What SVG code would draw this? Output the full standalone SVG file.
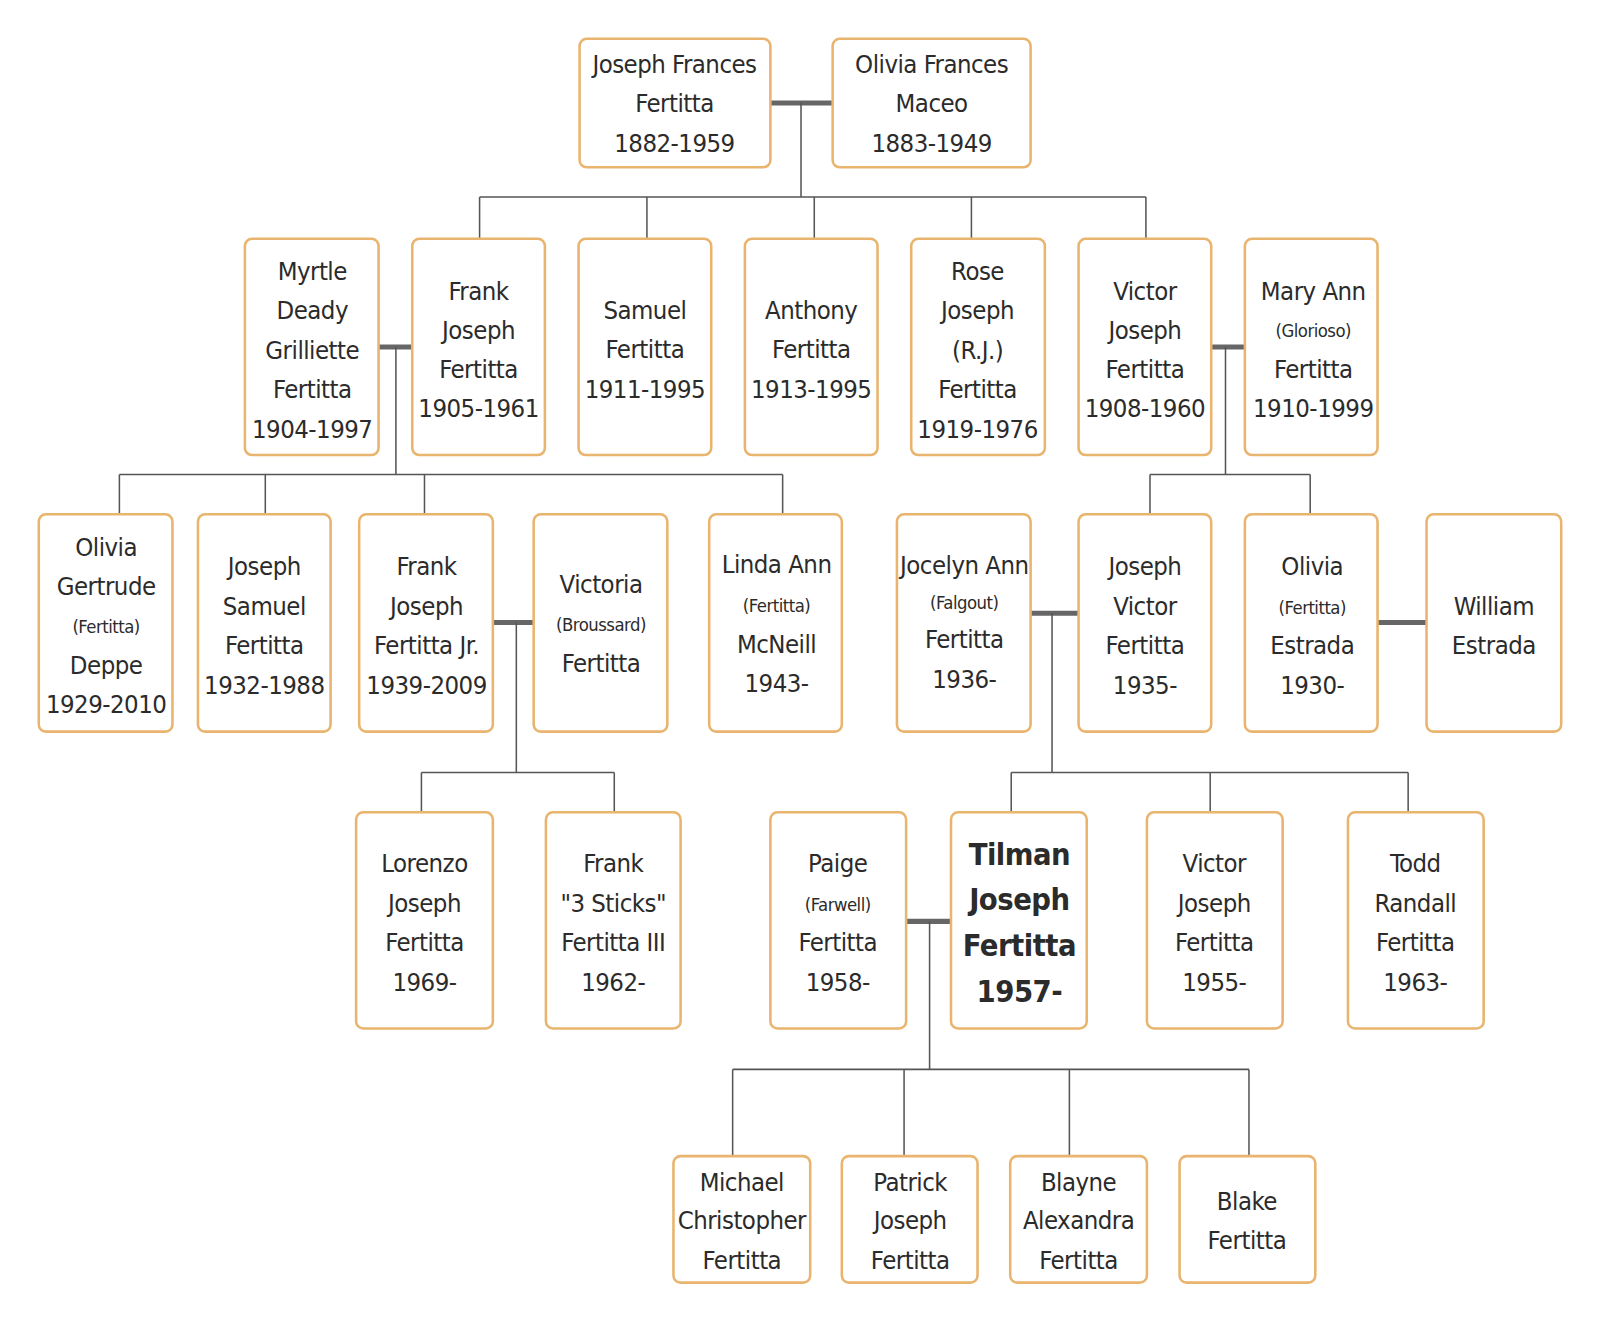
<svg xmlns="http://www.w3.org/2000/svg" width="1600" height="1326" viewBox="0 0 1600 1326">
<style>
.b{fill:#fff;stroke:#e8b46e;stroke-width:2.5}
text{font-family:"DejaVu Sans Condensed","Liberation Sans",sans-serif;font-size:25px;fill:#2b2b2b;text-anchor:middle;dominant-baseline:central;letter-spacing:-0.5px}
.s{font-size:18px}
.t{font-weight:bold;font-size:30px}
.c path{fill:none;stroke:#555;stroke-width:1.5}
.c .k{stroke:#666;stroke-width:5}
</style>
<rect width="1600" height="1326" fill="#fff"/>
<g transform="scale(1.0204)">
<g class="c" id="connectors">
<path class="k" d="M755 101H816"/>
<path d="M785 101V193M470 193H1123M470 193V234M634 193V234M798 193V234M952 193V234M1123 193V234"/>
<path class="k" d="M371 340H404"/>
<path d="M388 340V465M117 465H767M117 465V504M260 465V504M416 465V504M767 465V504"/>
<path class="k" d="M1187 340H1220"/>
<path d="M1201 340V465M1127 465H1284M1127 465V504M1284 465V504"/>
<path class="k" d="M483 610H523"/>
<path d="M506 610V757M413 757H602M413 757V796M602 757V796"/>
<path class="k" d="M1010 601H1057"/>
<path d="M1031 601V757M991 757H1380M991 757V796M1186 757V796M1380 757V796"/>
<path class="k" d="M1350 610H1398"/>
<path class="k" d="M888 903H932"/>
<path d="M911 903V1048M718 1048H1224M718 1048V1133M886 1048V1133M1048 1048V1133M1224 1048V1133"/>
</g>
<g id="n1"><rect class="b" x="568" y="38" width="187" height="126" rx="7"/><text x="661" y="63">Joseph Frances</text><text x="661" y="101">Fertitta</text><text x="661" y="140">1882-1959</text></g>
<g id="n2"><rect class="b" x="816" y="38" width="194" height="126" rx="7"/><text x="913" y="63">Olivia Frances</text><text x="913" y="101">Maceo</text><text x="913" y="140">1883-1949</text></g>
<g id="n3"><rect class="b" x="240" y="234" width="131" height="212" rx="7"/><text x="306" y="266">Myrtle</text><text x="306" y="304">Deady</text><text x="306" y="343">Grilliette</text><text x="306" y="381">Fertitta</text><text x="306" y="420">1904-1997</text></g>
<g id="n4"><rect class="b" x="404" y="234" width="130" height="212" rx="7"/><text x="469" y="285">Frank</text><text x="469" y="323">Joseph</text><text x="469" y="362">Fertitta</text><text x="469" y="400">1905-1961</text></g>
<g id="n5"><rect class="b" x="567" y="234" width="130" height="212" rx="7"/><text x="632" y="304">Samuel</text><text x="632" y="342">Fertitta</text><text x="632" y="381">1911-1995</text></g>
<g id="n6"><rect class="b" x="730" y="234" width="130" height="212" rx="7"/><text x="795" y="304">Anthony</text><text x="795" y="342">Fertitta</text><text x="795" y="381">1913-1995</text></g>
<g id="n7"><rect class="b" x="893" y="234" width="131" height="212" rx="7"/><text x="958" y="266">Rose</text><text x="958" y="304">Joseph</text><text x="958" y="343">(R.J.)</text><text x="958" y="381">Fertitta</text><text x="958" y="420">1919-1976</text></g>
<g id="n8"><rect class="b" x="1057" y="234" width="130" height="212" rx="7"/><text x="1122" y="285">Victor</text><text x="1122" y="323">Joseph</text><text x="1122" y="362">Fertitta</text><text x="1122" y="400">1908-1960</text></g>
<g id="n9"><rect class="b" x="1220" y="234" width="130" height="212" rx="7"/><text x="1287" y="285">Mary Ann</text><text class="s" x="1287" y="324">(Glorioso)</text><text x="1287" y="362">Fertitta</text><text x="1287" y="400">1910-1999</text></g>
<g id="n10"><rect class="b" x="38" y="504" width="131" height="213" rx="7"/><text x="104" y="536">Olivia</text><text x="104" y="574">Gertrude</text><text class="s" x="104" y="614">(Fertitta)</text><text x="104" y="652">Deppe</text><text x="104" y="690">1929-2010</text></g>
<g id="n11"><rect class="b" x="194" y="504" width="130" height="213" rx="7"/><text x="259" y="555">Joseph</text><text x="259" y="594">Samuel</text><text x="259" y="632">Fertitta</text><text x="259" y="671">1932-1988</text></g>
<g id="n12"><rect class="b" x="352" y="504" width="131" height="213" rx="7"/><text x="418" y="555">Frank</text><text x="418" y="594">Joseph</text><text x="418" y="632">Fertitta Jr.</text><text x="418" y="671">1939-2009</text></g>
<g id="n13"><rect class="b" x="523" y="504" width="131" height="213" rx="7"/><text x="589" y="572">Victoria</text><text class="s" x="589" y="612">(Broussard)</text><text x="589" y="650">Fertitta</text></g>
<g id="n14"><rect class="b" x="695" y="504" width="130" height="213" rx="7"/><text x="761" y="553">Linda Ann</text><text class="s" x="761" y="593">(Fertitta)</text><text x="761" y="631">McNeill</text><text x="761" y="669">1943-</text></g>
<g id="n15"><rect class="b" x="879" y="504" width="131" height="213" rx="7"/><text x="945" y="554">Jocelyn Ann</text><text class="s" x="945" y="590">(Falgout)</text><text x="945" y="626">Fertitta</text><text x="945" y="665">1936-</text></g>
<g id="n16"><rect class="b" x="1057" y="504" width="130" height="213" rx="7"/><text x="1122" y="555">Joseph</text><text x="1122" y="594">Victor</text><text x="1122" y="632">Fertitta</text><text x="1122" y="671">1935-</text></g>
<g id="n17"><rect class="b" x="1220" y="504" width="130" height="213" rx="7"/><text x="1286" y="555">Olivia</text><text class="s" x="1286" y="595">(Fertitta)</text><text x="1286" y="632">Estrada</text><text x="1286" y="671">1930-</text></g>
<g id="n18"><rect class="b" x="1398" y="504" width="132" height="213" rx="7"/><text x="1464" y="594">William</text><text x="1464" y="632">Estrada</text></g>
<g id="n19"><rect class="b" x="349" y="796" width="134" height="212" rx="7"/><text x="416" y="846">Lorenzo</text><text x="416" y="885">Joseph</text><text x="416" y="923">Fertitta</text><text x="416" y="962">1969-</text></g>
<g id="n20"><rect class="b" x="535" y="796" width="132" height="212" rx="7"/><text x="601" y="846">Frank</text><text x="601" y="885">"3 Sticks"</text><text x="601" y="923">Fertitta III</text><text x="601" y="962">1962-</text></g>
<g id="n21"><rect class="b" x="755" y="796" width="133" height="212" rx="7"/><text x="821" y="846">Paige</text><text class="s" x="821" y="886">(Farwell)</text><text x="821" y="923">Fertitta</text><text x="821" y="962">1958-</text></g>
<g id="n22"><rect class="b" x="932" y="796" width="133" height="212" rx="7"/><text class="t" x="999" y="837">Tilman</text><text class="t" x="999" y="882">Joseph</text><text class="t" x="999" y="927">Fertitta</text><text class="t" x="999" y="972">1957-</text></g>
<g id="n23"><rect class="b" x="1124" y="796" width="133" height="212" rx="7"/><text x="1190" y="846">Victor</text><text x="1190" y="885">Joseph</text><text x="1190" y="923">Fertitta</text><text x="1190" y="962">1955-</text></g>
<g id="n24"><rect class="b" x="1321" y="796" width="133" height="212" rx="7"/><text x="1387" y="846">Todd</text><text x="1387" y="885">Randall</text><text x="1387" y="923">Fertitta</text><text x="1387" y="962">1963-</text></g>
<g id="n25"><rect class="b" x="660" y="1133" width="134" height="124" rx="7"/><text x="727" y="1158">Michael</text><text x="727" y="1196">Christopher</text><text x="727" y="1235">Fertitta</text></g>
<g id="n26"><rect class="b" x="825" y="1133" width="133" height="124" rx="7"/><text x="892" y="1158">Patrick</text><text x="892" y="1196">Joseph</text><text x="892" y="1235">Fertitta</text></g>
<g id="n27"><rect class="b" x="990" y="1133" width="134" height="124" rx="7"/><text x="1057" y="1158">Blayne</text><text x="1057" y="1196">Alexandra</text><text x="1057" y="1235">Fertitta</text></g>
<g id="n28"><rect class="b" x="1156" y="1133" width="133" height="124" rx="7"/><text x="1222" y="1177">Blake</text><text x="1222" y="1215">Fertitta</text></g>
</g>
</svg>
